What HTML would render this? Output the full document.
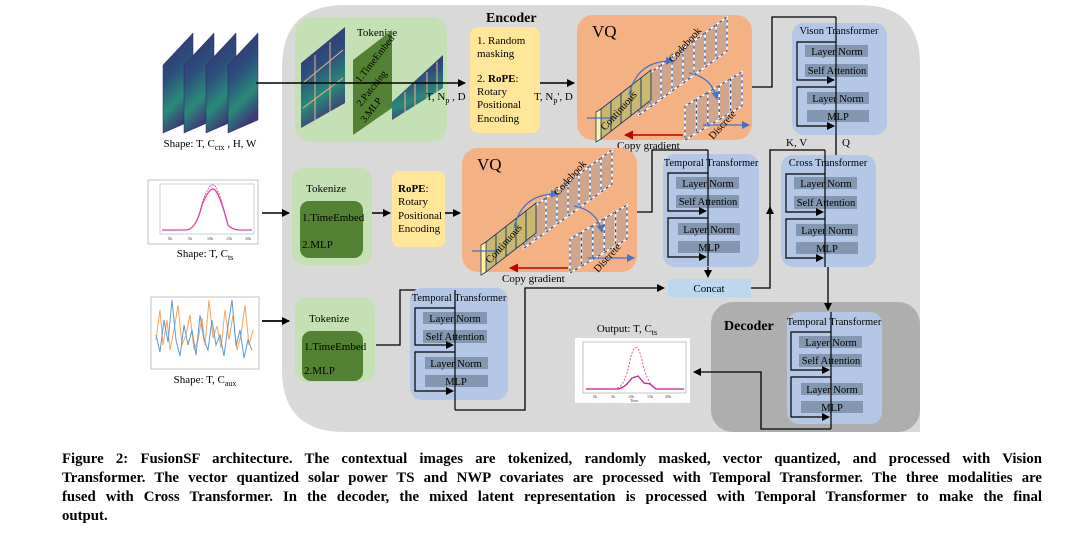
<!DOCTYPE html>
<html><head><meta charset="utf-8"><style>
body{margin:0;background:#fff;width:1070px;height:533px;overflow:hidden;position:relative;font-family:"Liberation Serif",serif}
.cap{position:absolute;left:62px;width:980px;font-weight:bold;font-size:14.8px;text-align:justify;text-align-last:justify;white-space:nowrap}
svg text{font-family:"Liberation Serif",serif}
</style></head><body>
<svg width="1070" height="445" viewBox="0 0 1070 445" style="position:absolute;left:0;top:0">
<defs>
<marker id="ab" markerWidth="8" markerHeight="8" refX="7" refY="4" orient="auto" markerUnits="userSpaceOnUse"><path d="M0,0 L8,4 L0,8 z" fill="#000"/></marker>
<marker id="abb" markerWidth="8" markerHeight="8" refX="7" refY="4" orient="auto" markerUnits="userSpaceOnUse"><path d="M0,0 L8,4 L0,8 z" fill="#4472c4"/></marker>
<marker id="abr" markerWidth="9" markerHeight="9" refX="8" refY="4.5" orient="auto" markerUnits="userSpaceOnUse"><path d="M0,0 L9,4.5 L0,9 z" fill="#c00000"/></marker>
<linearGradient id="sp" x1="0" y1="0" x2="0.3" y2="1"><stop offset="0" stop-color="#3b2a6b"/><stop offset="0.45" stop-color="#2c4d7d"/><stop offset="0.75" stop-color="#2a8a7a"/><stop offset="1" stop-color="#3e3a78"/></linearGradient>
<g id="cbc"><polygon points="0,0 11,-8 11,-42 0,-34" fill="#cfa58c" stroke="#fff" stroke-width="1.6"/><polygon points="0,0 11,-8 11,-42 0,-34" fill="none" stroke="#2f4f8f" stroke-width="1.2" stroke-dasharray="3,3"/></g>
<g id="dsc"><polygon points="0,0 11.4,-6.8 11.4,-40.8 0,-34" fill="#cfa58c" stroke="#fff" stroke-width="1.6"/><polygon points="0,0 11.4,-6.8 11.4,-40.8 0,-34" fill="none" stroke="#2f4f8f" stroke-width="1.2" stroke-dasharray="3,3"/></g>
<polygon id="ctc" points="0,0 10,-7.8 10,-37.8 0,-30" fill="#c9b870" stroke="#1f3864" stroke-width="0.9"/>
<g id="vqin">
<use href="#cbc" x="62" y="100"/><use href="#cbc" x="73" y="92"/><use href="#cbc" x="84" y="84"/><use href="#cbc" x="95" y="76"/><use href="#cbc" x="106" y="68"/><use href="#cbc" x="117" y="60"/><use href="#cbc" x="128" y="52"/><use href="#cbc" x="139" y="44"/>
<use href="#dsc" x="108" y="125"/><use href="#dsc" x="119.4" y="118.2"/><use href="#dsc" x="130.8" y="111.4"/><use href="#dsc" x="142.2" y="104.6"/><use href="#dsc" x="153.6" y="97.8"/>
<use href="#ctc" x="24" y="124"/><use href="#ctc" x="34" y="116.2"/><use href="#ctc" x="44" y="108.4"/><use href="#ctc" x="54" y="100.6"/><use href="#ctc" x="64" y="92.8"/>
<polygon points="19,127 24,124 24,94 19,97" fill="#fff2a8" stroke="#1f3864" stroke-width="0.8"/>
<path d="M52,80 Q60,45 96,46" fill="none" stroke="#4472c4" stroke-width="1.2" marker-end="url(#abb)"/>
<path d="M112,58 Q135,62 140,84" fill="none" stroke="#4472c4" stroke-width="1.2" marker-end="url(#abb)"/>
<line x1="10" y1="103" x2="40" y2="103" stroke="#4472c4" stroke-width="1.2"/>
<line x1="126" y1="110" x2="172" y2="110" stroke="#4472c4" stroke-width="1.2" marker-end="url(#abb)"/>
<line x1="106" y1="120" x2="48" y2="120" stroke="#c00000" stroke-width="1.6" marker-end="url(#abr)"/>
</g>
</defs>
<path d="M345,5 H860 Q920,5 920,65 V432 H345 Q282,432 282,370 V68 Q282,5 345,5 Z" fill="#d9d9d9"/>
<text x="486" y="22" font-size="14" font-weight="bold">Encoder</text>
<rect x="711" y="302" width="209" height="130" rx="22" fill="#aeaeae"/>
<text x="724" y="330" font-size="14" font-weight="bold">Decoder</text>

<g stroke="#2a2a5a" stroke-width="0.5">
<polygon points="163,65 193,33 193,120 163,133" fill="url(#sp)"/>
<polygon points="184,65 214,33 214,120 184,133" fill="url(#sp)"/>
<polygon points="206,65 236,33 236,120 206,133" fill="url(#sp)"/>
<polygon points="228,65 258,33 258,120 228,133" fill="url(#sp)"/>
</g>
<text x="210" y="147" font-size="11" text-anchor="middle">Shape: T, C<tspan font-size="8" dy="3">ctx</tspan><tspan dy="-3"> , H, W</tspan></text>

<rect x="295" y="17" width="152" height="125" rx="16" fill="#c5e0b4"/>
<text x="377" y="36" font-size="11" text-anchor="middle">Tokenize</text>
<polygon points="301,63 345,27 345,103 301,128" fill="url(#sp)"/>
<g stroke="#f4b183" stroke-width="1"><line x1="303" y1="83" x2="343" y2="50"/><line x1="303" y1="108" x2="343" y2="78"/><line x1="315" y1="55" x2="315" y2="120"/><line x1="330" y1="42" x2="330" y2="112"/></g>
<polygon points="353,60 392,30 392,108 353,135" fill="#548235"/>
<text transform="translate(360,83) rotate(-52)" font-size="10">1.TimeEmbed</text>
<text transform="translate(361,107) rotate(-52)" font-size="10">2.Patching</text>
<text transform="translate(365,123) rotate(-52)" font-size="10">3.MLP</text>
<polygon points="392,102 443,55 443,88 392,120" fill="url(#sp)"/>
<g stroke="#f4b183"><line x1="405" y1="92" x2="405" y2="112"/><line x1="415" y1="83" x2="415" y2="106"/><line x1="427" y1="72" x2="427" y2="98"/><line x1="437" y1="62" x2="437" y2="92"/></g>
<line x1="256" y1="83" x2="465" y2="83" stroke="#000" stroke-width="1.6" marker-end="url(#ab)"/>
<text x="426" y="100" font-size="11">T, N<tspan font-size="8" dy="3">p</tspan><tspan dy="-3"> , D</tspan></text>

<rect x="470" y="27" width="70" height="106" rx="8" fill="#ffe699"/>
<g font-size="11"><text x="477" y="44">1. Random</text><text x="477" y="57">masking</text>
<text x="477" y="82">2. <tspan font-weight="bold">RoPE</tspan>:</text><text x="477" y="95">Rotary</text><text x="477" y="108">Positional</text><text x="477" y="122">Encoding</text></g>
<line x1="540" y1="83" x2="574" y2="83" stroke="#000" stroke-width="1.6" marker-end="url(#ab)"/>
<text x="534" y="100" font-size="11">T, N<tspan font-size="8" dy="3">p</tspan><tspan dy="-3">', D</tspan></text>

<g transform="translate(577,15)">
<rect x="0" y="0" width="175" height="125" rx="16" fill="#f4b183"/>
<text x="15" y="22" font-size="17">VQ</text>
<use href="#vqin"/>
<text transform="translate(28,116) rotate(-48)" font-size="10.5">Continuous</text>
<text transform="translate(96,48) rotate(-48)" font-size="10.5">Codebook</text>
<text transform="translate(136,125) rotate(-48)" font-size="10.5">Discrete</text>
<text x="40" y="134" font-size="11">Copy gradient</text>
</g>

<path d="M752,87 H772 V17 H836" fill="none" stroke="#000" stroke-width="1.3"/>
<g transform="translate(792,23)">
<rect width="95" height="112" rx="12" fill="#b4c7e7"/>
<text x="47" y="11" font-size="10.5" text-anchor="middle">Vison Transformer</text>
<g fill="#8497b0"><rect x="13" y="22" width="63" height="12"/><rect x="13" y="41" width="63" height="13"/><rect x="15" y="69" width="62" height="12"/><rect x="15" y="87" width="62" height="12"/></g>
<g font-size="10.5" text-anchor="middle"><text x="45" y="32">Layer Norm</text><text x="45" y="51">Self Attention</text><text x="46" y="79">Layer Norm</text><text x="46" y="97">MLP</text></g>
<g fill="none" stroke="#000" stroke-width="1.2"><line x1="44" y1="-6" x2="44" y2="112"/>
<path d="M44,19 H5 V57 H42" marker-end="url(#ab)"/><path d="M44,64 H5 V103 H42" marker-end="url(#ab)"/></g>
</g>
<line x1="836" y1="135" x2="836" y2="170" stroke="#000" stroke-width="1.3" marker-end="url(#ab)"/>
<text x="842" y="146" font-size="11">Q</text>
<text x="786" y="146" font-size="11">K, V</text>

<rect x="148" y="180" width="110" height="64" fill="#fff" stroke="#999" stroke-width="0.6"/>
<g stroke="#888" stroke-width="0.4" fill="none"><rect x="160" y="184" width="94" height="50"/></g>
<path d="M162,230 H186 Q196,230 202,205 Q210,185 215,190 Q220,195 228,225 Q232,230 240,230 H252" fill="none" stroke="#e040a0" stroke-width="1.3"/>
<path d="M162,230 H186 Q196,230 202,203 Q210,180 215,186 Q220,192 228,225 Q232,230 240,230 H252" fill="none" stroke="#e040a0" stroke-width="0.8" stroke-dasharray="2,1"/>
<g font-size="4" fill="#444"><text x="168" y="240">0h</text><text x="188" y="240">5h</text><text x="207" y="240">10h</text><text x="226" y="240">15h</text><text x="245" y="240">20h</text></g>
<text x="205" y="257" font-size="11" text-anchor="middle">Shape: T, C<tspan font-size="8" dy="3">ts</tspan></text>
<line x1="262" y1="213" x2="289" y2="213" stroke="#000" stroke-width="1.6" marker-end="url(#ab)"/>
<rect x="292" y="168" width="80" height="97" rx="12" fill="#c5e0b4"/>
<text x="306" y="192" font-size="11">Tokenize</text>
<rect x="300" y="201" width="63" height="57" rx="9" fill="#548235"/>
<text x="302" y="221" font-size="11">1.TimeEmbed</text><text x="302" y="248" font-size="11">2.MLP</text>
<line x1="372" y1="213" x2="390" y2="213" stroke="#000" stroke-width="1.6" marker-end="url(#ab)"/>
<rect x="392" y="171" width="53" height="76" rx="7" fill="#ffe699"/>
<g font-size="11"><text x="398" y="192"><tspan font-weight="bold">RoPE</tspan>:</text><text x="398" y="205">Rotary</text><text x="398" y="219">Positional</text><text x="398" y="232">Encoding</text></g>
<line x1="445" y1="213" x2="460" y2="213" stroke="#000" stroke-width="1.6" marker-end="url(#ab)"/>

<g transform="translate(462,148)">
<rect x="0" y="0" width="175" height="124" rx="16" fill="#f4b183"/>
<text x="15" y="22" font-size="17">VQ</text>
<use href="#vqin"/>
<text transform="translate(28,116) rotate(-48)" font-size="10.5">Continuous</text>
<text transform="translate(96,48) rotate(-48)" font-size="10.5">Codebook</text>
<text transform="translate(136,125) rotate(-48)" font-size="10.5">Discrete</text>
<text x="40" y="134" font-size="11">Copy gradient</text>
</g>

<path d="M637,212 H652 V150 H708" fill="none" stroke="#000" stroke-width="1.3"/>
<g transform="translate(663,154)">
<rect width="96" height="113" rx="12" fill="#b4c7e7"/>
<text x="48" y="12" font-size="10.5" text-anchor="middle">Temporal Transformer</text>
<g fill="#8497b0"><rect x="13" y="23" width="63" height="12"/><rect x="13" y="41" width="63" height="13"/><rect x="15" y="69" width="62" height="12"/><rect x="15" y="87" width="62" height="12"/></g>
<g font-size="10.5" text-anchor="middle"><text x="45" y="33">Layer Norm</text><text x="45" y="51">Self Attention</text><text x="46" y="79">Layer Norm</text><text x="46" y="97">MLP</text></g>
<g fill="none" stroke="#000" stroke-width="1.2"><line x1="45" y1="-4" x2="45" y2="112"/>
<path d="M45,19 H5 V57 H43" marker-end="url(#ab)"/><path d="M45,64 H5 V103 H43" marker-end="url(#ab)"/></g>
</g>
<line x1="708" y1="267" x2="708" y2="277" stroke="#000" stroke-width="1.3" marker-end="url(#ab)"/>
<rect x="668" y="279" width="83" height="18" fill="#bdd7ee"/>
<text x="709" y="292" font-size="11" text-anchor="middle">Concat</text>
<path d="M751,288 H770 V150 H825" fill="none" stroke="#000" stroke-width="1.3"/>
<line x1="770" y1="220" x2="770" y2="207" stroke="#000" stroke-width="1.3" marker-end="url(#ab)"/>

<g transform="translate(781,155)">
<rect width="95" height="112" rx="12" fill="#b4c7e7"/>
<text x="47" y="11" font-size="10.5" text-anchor="middle">Cross Transformer</text>
<g fill="#8497b0"><rect x="13" y="22" width="63" height="12"/><rect x="13" y="41" width="63" height="13"/><rect x="15" y="69" width="62" height="12"/><rect x="15" y="87" width="62" height="12"/></g>
<g font-size="10.5" text-anchor="middle"><text x="45" y="32">Layer Norm</text><text x="45" y="51">Self Attention</text><text x="46" y="79">Layer Norm</text><text x="46" y="97">MLP</text></g>
<g fill="none" stroke="#000" stroke-width="1.2"><line x1="44" y1="-5" x2="44" y2="112"/>
<path d="M44,19 H5 V57 H42" marker-end="url(#ab)"/><path d="M44,64 H5 V103 H42" marker-end="url(#ab)"/></g>
</g>
<line x1="828" y1="267" x2="828" y2="310" stroke="#000" stroke-width="1.3" marker-end="url(#ab)"/>

<rect x="151" y="297" width="108" height="72" fill="#fff" stroke="#999" stroke-width="0.6"/>
<polyline points="156,340 160,310 163,345 167,320 170,350 174,330 178,305 182,345 186,335 190,315 194,350 198,340 202,318 205,345 209,300 213,338 217,326 221,348 225,310 229,340 233,315 237,350 241,335 245,305 249,345 253,330" fill="none" stroke="#f4a460" stroke-width="1"/>
<polyline points="156,335 160,352 164,320 168,342 172,300 176,340 180,356 184,325 188,345 192,330 196,355 200,315 204,340 208,350 212,320 216,345 220,335 224,356 228,326 232,300 236,346 240,330 244,358 248,340 252,350" fill="none" stroke="#5b9bd5" stroke-width="1"/>
<text x="205" y="383" font-size="11" text-anchor="middle">Shape: T, C<tspan font-size="8" dy="3">aux</tspan></text>
<line x1="262" y1="321" x2="289" y2="321" stroke="#000" stroke-width="1.8" marker-end="url(#ab)"/>
<rect x="295" y="297" width="80" height="85" rx="12" fill="#c5e0b4"/>
<text x="309" y="322" font-size="11">Tokenize</text>
<rect x="302" y="331" width="61" height="50" rx="9" fill="#548235"/>
<text x="304" y="350" font-size="11">1.TimeEmbed</text><text x="304" y="374" font-size="11">2.MLP</text>
<path d="M376,345 H400 V290 H455" fill="none" stroke="#000" stroke-width="1.3"/>
<g transform="translate(410,288)">
<rect width="98" height="112" rx="12" fill="#b4c7e7"/>
<text x="49" y="13" font-size="10.5" text-anchor="middle">Temporal Transformer</text>
<g fill="#8497b0"><rect x="13" y="24" width="64" height="12"/><rect x="13" y="42" width="64" height="13"/><rect x="15" y="69" width="63" height="12"/><rect x="15" y="87" width="63" height="12"/></g>
<g font-size="10.5" text-anchor="middle"><text x="45" y="34">Layer Norm</text><text x="45" y="52">Self Attention</text><text x="46" y="79">Layer Norm</text><text x="46" y="97">MLP</text></g>
<g fill="none" stroke="#000" stroke-width="1.2"><line x1="45" y1="2" x2="45" y2="122"/>
<path d="M45,20 H5 V57 H43" marker-end="url(#ab)"/><path d="M45,64 H5 V103 H43" marker-end="url(#ab)"/></g>
</g>
<path d="M455,410 H525 V288 H664" fill="none" stroke="#000" stroke-width="1.3" marker-end="url(#ab)"/>

<text x="627" y="332" font-size="11" text-anchor="middle">Output: T, C<tspan font-size="8" dy="3">ts</tspan></text>
<rect x="575" y="338" width="115" height="65" fill="#fff"/>
<rect x="583" y="342" width="103" height="51" fill="none" stroke="#888" stroke-width="0.5"/>
<path d="M586,389 H615 Q625,388 630,360 Q636,335 642,360 Q648,388 658,389 H684" fill="none" stroke="#e040a0" stroke-width="0.9" stroke-dasharray="2,1.5"/>
<path d="M586,389 H618 Q625,388 632,378 L638,376 L644,383 L650,384 L656,389 H684" fill="none" stroke="#c0208a" stroke-width="1.3"/>
<g font-size="4" fill="#444"><text x="593" y="398">0h</text><text x="611" y="398">5h</text><text x="628" y="398">10h</text><text x="647" y="398">15h</text><text x="665" y="398">20h</text><text x="630" y="402">Time</text></g>

<g transform="translate(787,312)">
<rect width="95" height="112" rx="12" fill="#b4c7e7"/>
<text x="47" y="13" font-size="10.5" text-anchor="middle">Temporal Transformer</text>
<g fill="#8497b0"><rect x="12" y="24" width="63" height="12"/><rect x="12" y="42" width="63" height="13"/><rect x="14" y="71" width="62" height="12"/><rect x="14" y="89" width="62" height="12"/></g>
<g font-size="10.5" text-anchor="middle"><text x="44" y="34">Layer Norm</text><text x="44" y="52">Self Attention</text><text x="45" y="81">Layer Norm</text><text x="45" y="99">MLP</text></g>
<g fill="none" stroke="#000" stroke-width="1.2"><line x1="44" y1="0" x2="44" y2="117"/>
<path d="M44,20 H4 V58 H42" marker-end="url(#ab)"/><path d="M44,65 H4 V105 H42" marker-end="url(#ab)"/></g>
</g>
<path d="M831,429 H761 V372 H694" fill="none" stroke="#000" stroke-width="1.3" marker-end="url(#ab)"/>
</svg>
<div class="cap" style="top:451px">Figure 2: FusionSF architecture. The contextual images are tokenized, randomly masked, vector quantized, and processed with Vision</div>
<div class="cap" style="top:470px">Transformer. The vector quantized solar power TS and NWP covariates are processed with Temporal Transformer. The three modalities are</div>
<div class="cap" style="top:489px">fused with Cross Transformer. In the decoder, the mixed latent representation is processed with Temporal Transformer to make the final</div>
<div class="cap" style="top:508px;text-align-last:left">output.</div>
</body></html>
